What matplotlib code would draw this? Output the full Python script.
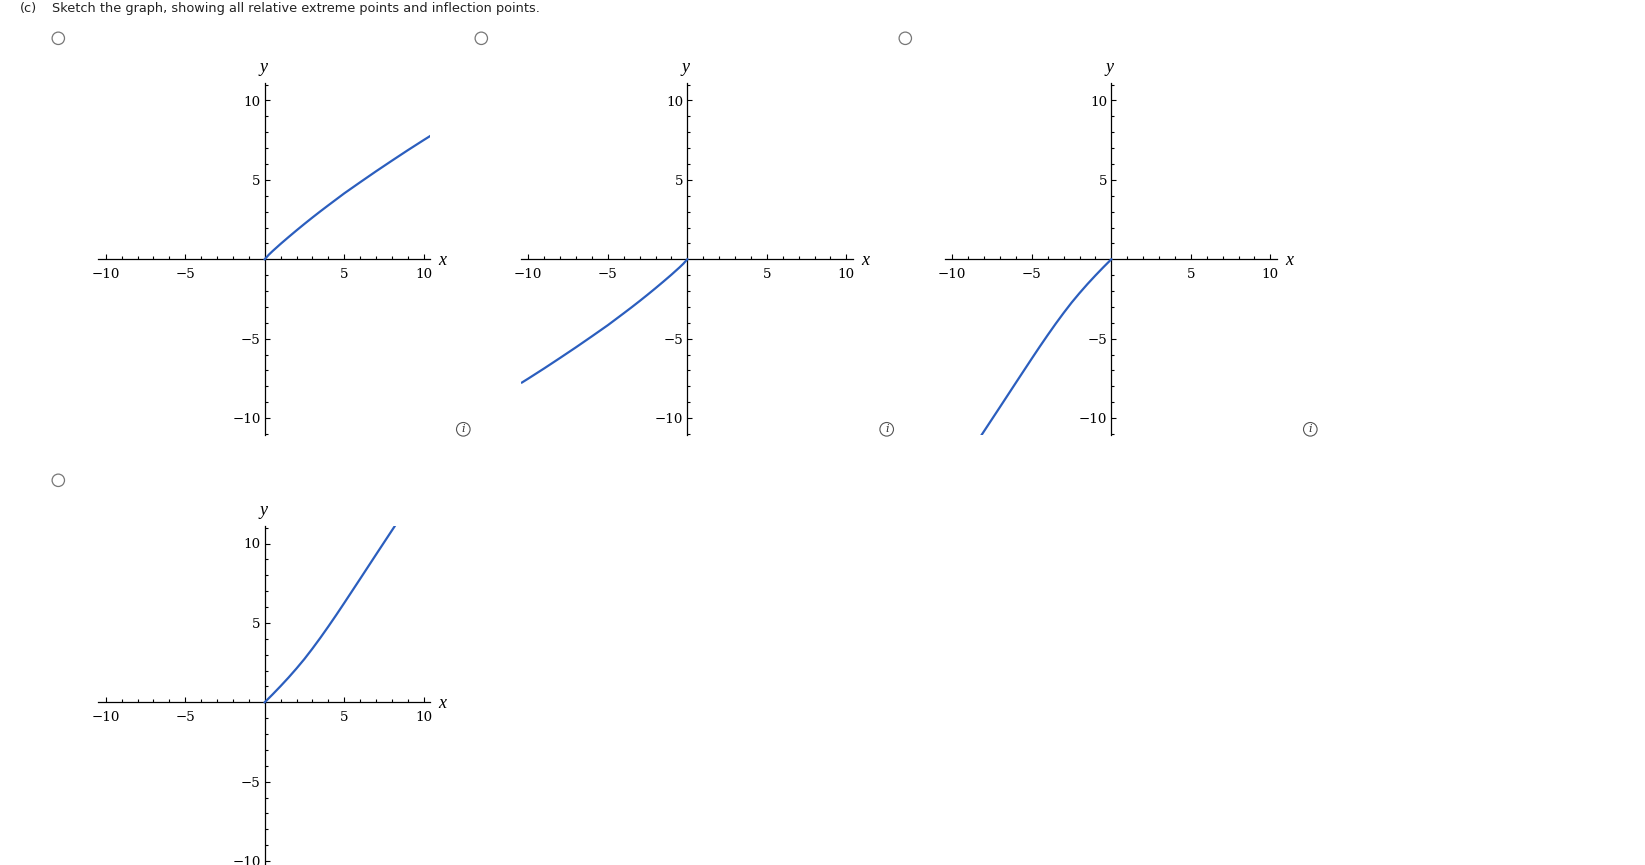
import matplotlib
matplotlib.use('Agg')
import matplotlib.pyplot as plt
from matplotlib.patches import Circle
import numpy as np

W, H = 1645, 865

# values
shallow_x = [0, 0.25, 0.5, 1, 1.5, 2, 2.5, 3, 3.5, 4, 5, 6, 7, 8, 9, 10, 10.4]
shallow_y = [0, 0.28, 0.52, 0.97, 1.4, 1.82, 2.23, 2.63, 3.02, 3.4, 4.15, 4.85, 5.54, 6.21, 6.87, 7.51, 7.76]
steep_x = [0, 0.5, 1, 1.5, 2, 2.5, 3, 3.5, 4, 4.5, 5, 6, 7, 8.25]
steep_y = [0, 0.5, 1.02, 1.56, 2.13, 2.73, 3.38, 4.06, 4.77, 5.5, 6.25, 7.77, 9.3, 11.2]

major_ticks = [-10, -5, 5, 10]
major_labels = ['\u221210', '\u22125', '5', '10']
x_minor = [i for i in range(-10, 11) if i % 5 != 0]
y_minor = [i for i in range(-11, 12) if i % 5 != 0]

question = 'Sketch the graph, showing all relative extreme points and inflection points.'
part = '(c)'

# y axis x position, x axis y position in pixels, then the curve
charts = [
    (264.7, 259.3, shallow_x, shallow_y, 1),
    (687.3, 259.3, shallow_x, shallow_y, -1),
    (1111.3, 259.3, steep_x, steep_y, -1),
    (264.7, 702.3, steep_x, steep_y, 1),
]
radios = [(58.3, 38.3), (481.3, 38.3), (905.3, 38.3), (58.3, 480.3)]
infos = [(463.3, 429.3), (886.7, 429.3), (1310.3, 429.3)]

XMIN, XMAX = -10.48, 10.4
YMIN, YMAX = -11.08, 11.12
UNIT_X = 15.9
UNIT_Y = 15.88

fig = plt.figure(figsize=(W / 100, H / 100), dpi=100, facecolor='white')

for ox, oy, xs, ys, sign in charts:
    left = ox + XMIN * UNIT_X
    top = oy - YMAX * UNIT_Y
    w = (XMAX - XMIN) * UNIT_X
    h = (YMAX - YMIN) * UNIT_Y
    ax = fig.add_axes([left / W, 1 - (top + h) / H, w / W, h / H])
    ax.patch.set_alpha(0)
    ax.plot(sign * np.array(xs), sign * np.array(ys), color='#2B5EBE', linewidth=1.6, zorder=3)
    ax.set_xlim(XMIN, XMAX)
    ax.set_ylim(YMIN, YMAX)
    ax.spines['top'].set_visible(False)
    ax.spines['right'].set_visible(False)
    ax.spines['left'].set_position(('data', 0))
    ax.spines['bottom'].set_position(('data', 0))
    ax.spines['left'].set_linewidth(0.9)
    ax.spines['bottom'].set_linewidth(0.9)
    ax.set_xticks(major_ticks)
    ax.set_xticklabels(major_labels, family='DejaVu Serif', fontsize=9.6)
    ax.set_yticks(major_ticks)
    ax.set_yticklabels(major_labels, family='DejaVu Serif', fontsize=9.6)
    ax.set_xticks(x_minor, minor=True)
    ax.set_yticks(y_minor, minor=True)
    ax.tick_params(axis='both', which='major', direction='in', length=3.4, width=0.8, colors='black')
    ax.tick_params(axis='both', which='minor', direction='in', length=2.2, width=0.8)
    ax.tick_params(axis='x', which='major', pad=6.5)
    ax.tick_params(axis='y', which='major', pad=3)

# overlay in pixel coordinates for the page furniture
page = fig.add_axes([0, 0, 1, 1], zorder=5)
page.set_xlim(0, W)
page.set_ylim(H, 0)
page.axis('off')

page.text(20, 8.8, part, family='DejaVu Sans', fontsize=9.3, color='#222222', va='center')
page.text(52, 8.8, question, family='DejaVu Sans', fontsize=9.3, color='#222222', va='center')

for ox, oy, xs, ys, sign in charts:
    page.text(ox + 178, oy + 1, 'x', family='Liberation Serif', style='italic', fontsize=13,
              ha='center', va='center', clip_on=True)
    page.text(ox - 1.5, oy - 192, 'y', family='Liberation Serif', style='italic', fontsize=13,
              ha='center', va='center', clip_on=True)

for cx, cy in radios:
    page.add_patch(Circle((cx, cy), 6.2, facecolor='white', edgecolor='#777777', linewidth=0.9))

for cx, cy in infos:
    page.add_patch(Circle((cx, cy), 6.8, facecolor='white', edgecolor='#555555', linewidth=0.8))
    page.text(cx, cy, 'i', family='DejaVu Serif', style='italic', fontsize=8,
              color='#333333', ha='center', va='center')

fig.savefig('out.png', dpi=100)
